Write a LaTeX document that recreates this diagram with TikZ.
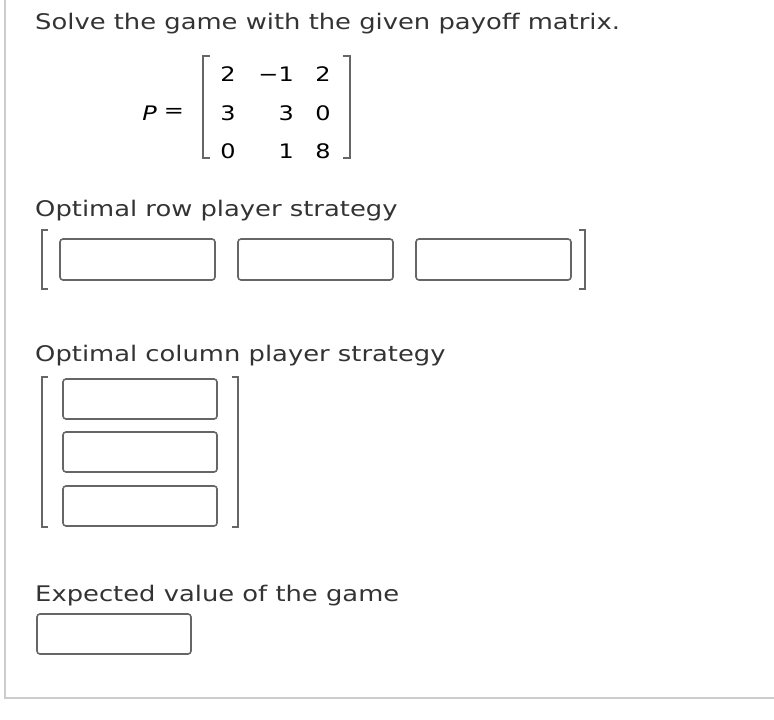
\documentclass[tikz,border=0pt]{standalone}
\usepackage{fontspec}
\setmainfont{DejaVu Sans}
\newfontfamily\wide[FakeStretch=1.2]{DejaVu Sans}
\begin{document}
\begin{tikzpicture}[x=1pt,y=-1pt,
  lbl/.style={anchor=base west,inner sep=0pt,font=\wide\fontsize{21.5}{24}\selectfont,text=black!80},
  num/.style={inner sep=0pt,font=\wide\fontsize{20}{24}\selectfont},
  ibox/.style={draw=black!60,line width=1.6pt,rounded corners=3pt},
  brk/.style={draw=black!60,line width=1.6pt}]
\useasboundingbox (0,0) rectangle (774,720);
\draw[black!20,line width=1.5pt] (5,0) -- (5,698) -- (774,698);
\node[lbl] (t1) at (35,29) {Solve the game with the given payoff matrix.};
% matrix
\node[num,anchor=east] (P) at (157,113) {\itshape P};
\node[num] (eq) at (174,113) {=};
\draw[brk] (210,56) -- (203,56) -- (203,158) -- (210,158);
\draw[brk] (343,56) -- (350,56) -- (350,158) -- (343,158);
\node[num] (a11) at (228,74) {2};
\node[num,anchor=east] (a12) at (294,74) {−1};
\node[num] (a13) at (323,74) {2};
\node[num] (a21) at (228,113) {3};
\node[num,anchor=east] (a22) at (294,113) {3};
\node[num] (a23) at (323,113) {0};
\node[num] (a31) at (228,151) {0};
\node[num,anchor=east] (a32) at (294,151) {1};
\node[num] (a33) at (323,151) {8};
\node[lbl] (t2) at (35,216) {Optimal row player strategy};
\draw[brk] (48,230) -- (42,230) -- (42,289) -- (48,289);
\draw[ibox] (60,239) rectangle (215,280);
\draw[ibox] (238,239) rectangle (393,280);
\draw[ibox] (416,239) rectangle (571,280);
\draw[brk] (579,230) -- (585,230) -- (585,289) -- (579,289);
\node[lbl] (t3) at (35,361) {Optimal column player strategy};
\draw[brk] (48,377) -- (42,377) -- (42,527) -- (48,527);
\draw[ibox] (63,379) rectangle (217,419);
\draw[ibox] (63,432) rectangle (217,472);
\draw[ibox] (63,486) rectangle (217,526);
\draw[brk] (232,377) -- (238,377) -- (238,527) -- (232,527);
\node[lbl] (t4) at (35,601) {Expected value of the game};
\draw[ibox] (37,614) rectangle (191,654);
\end{tikzpicture}
\end{document}
